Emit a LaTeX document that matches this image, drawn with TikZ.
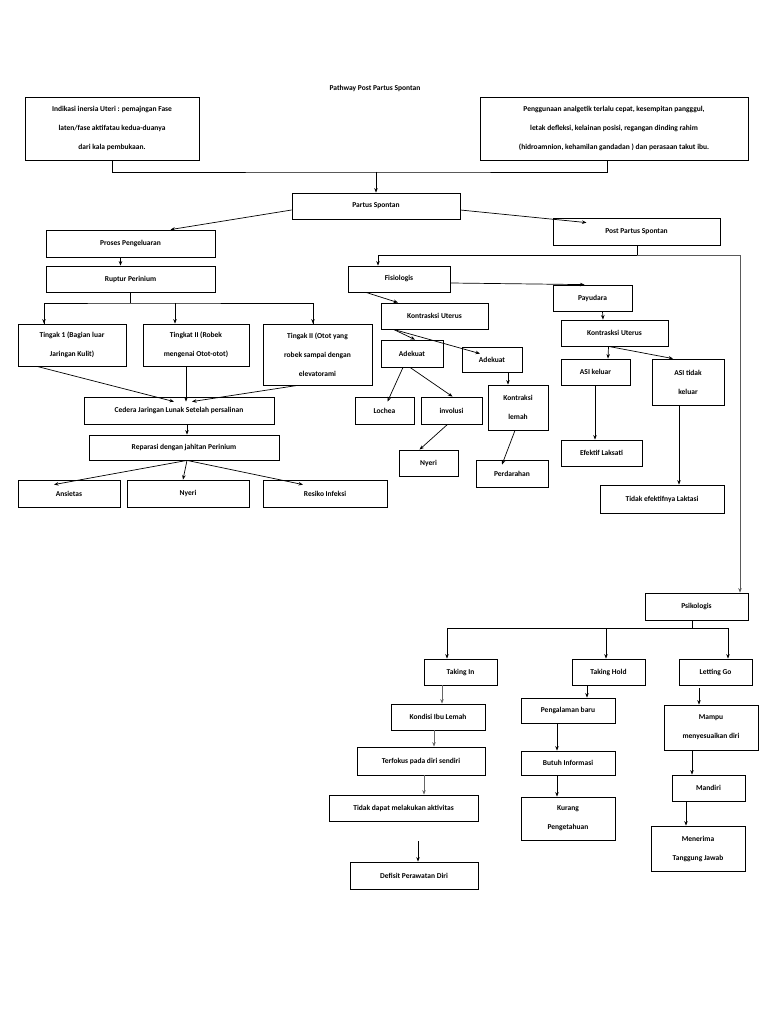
\documentclass[tikz,border=0pt]{standalone}
\usepackage{fontspec}
\setmainfont{Carlito}
\usetikzlibrary{arrows.meta}
\begin{document}
\begin{tikzpicture}[x=1pt,y=-1pt,
  box/.style={draw,line width=0.8pt,inner sep=1pt,align=center,font=\fontsize{7.5}{19}\selectfont\bfseries},
  ar/.style={line width=0.7pt,-{Stealth[length=4.5pt,width=3.5pt]}},
  ln/.style={line width=0.7pt}]
\useasboundingbox[fill=white] (0,0) rectangle (768,1024);
\newcommand\bx[6]{%
 \pgfmathsetmacro\bw{#4-#2}\pgfmathsetmacro\bh{#5-#3}%
 \node[box,minimum width=\bw pt,minimum height=\bh pt] (#1) at ({(#2+#4)/2},{(#3+#5)/2}) {#6};}
\node[font=\fontsize{7.5}{9}\selectfont\bfseries] (title) at (375,88) {Pathway Post Partus Spontan};
\bx{ind}{25}{97}{199}{160}{Indikasi inersia Uteri : pemajngan Fase\\laten/fase aktifatau kedua-duanya\\dari kala pembukaan.}
\bx{pen}{480}{97}{748}{160}{Penggunaan analgetik terlalu cepat, kesempitan pangggul,\\letak defleksi, kelainan posisi, regangan dinding rahim\\(hidroamnion, kehamilan gandadan ) dan perasaan takut ibu.}
\bx{partus}{292}{193}{460}{219}{Partus Spontan}
\bx{proses}{46}{230}{215}{257}{Proses Pengeluaran}
\bx{post}{553}{218}{720}{245}{Post Partus Spontan}
\bx{ruptur}{46}{266}{215}{292}{Ruptur Perinium}
\bx{fis}{348}{266}{450}{292}{Fisiologis}
\bx{pay}{553}{285}{632}{311}{Payudara}
\bx{kuL}{381}{303}{488}{329}{Kontrasksi Uterus}
\bx{kuR}{561}{320}{668}{346}{Kontrasksi Uterus}
\bx{t1}{18}{324}{126}{366}{Tingak 1 (Bagian luar\\Jaringan Kulit)}
\bx{t2}{143}{324}{249}{366}{Tingkat II (Robek\\mengenai Otot-otot)}
\bx{t3}{263}{324}{372}{385}{Tingak II (Otot yang\\robek sampai dengan\\elevatorami}
\bx{adk1}{381}{340}{443}{367}{Adekuat}
\bx{adk2}{462}{347}{522}{372}{Adekuat}
\bx{asik}{561}{359}{630}{385}{ASI keluar}
\bx{asit}{652}{359}{724}{405}{ASI tidak\\keluar}
\bx{lochea}{355}{397}{414}{424}{Lochea}
\bx{inv}{421}{397}{482}{424}{involusi}
\bx{kl}{488}{385}{548}{430}{Kontraksi\\lemah}
\bx{ced}{84}{397}{274}{424}{Cedera Jaringan Lunak Setelah persalinan}
\bx{rep}{89}{435}{279}{460}{Reparasi dengan jahitan Perinium}
\bx{nyeri2}{399}{450}{458}{476}{Nyeri}
\bx{perd}{476}{460}{548}{487}{Perdarahan}
\bx{efek}{561}{440}{642}{466}{Efektif Laksati}
\bx{tidak}{600}{485}{724}{513}{Tidak efektifnya Laktasi}
\bx{ans}{18}{480}{120}{507}{Ansietas}
\bx{nyeri}{127}{480}{249}{507}{Nyeri}
\bx{resiko}{263}{480}{387}{507}{Resiko Infeksi}
\bx{psi}{645}{593}{748}{620}{Psikologis}
\bx{tin}{424}{659}{497}{685}{Taking In}
\bx{thold}{572}{659}{645}{685}{Taking Hold}
\bx{lgo}{679}{659}{752}{685}{Letting Go}
\bx{kond}{391}{704}{485}{730}{Kondisi Ibu Lemah}
\bx{peng}{521}{698}{615}{723}{Pengalaman baru}
\bx{mampu}{664}{705}{758}{750}{Mampu\\menyesuaikan diri}
\bx{terf}{357}{747}{485}{775}{Terfokus pada diri sendiri}
\bx{butuh}{521}{751}{615}{775}{Butuh Informasi}
\bx{mandiri}{672}{775}{745}{801}{Mandiri}
\bx{tidakd}{329}{795}{478}{821}{Tidak dapat melakukan aktivitas}
\bx{kurang}{521}{797}{615}{840}{Kurang\\Pengetahuan}
\bx{menerima}{651}{826}{745}{871}{Menerima\\Tanggung Jawab}
\bx{defisit}{350}{862}{478}{889}{Defisit Perawatan Diri}
% top
\coordinate (j1) at (376,172);
\draw[ln] (ind.south) |- (j1) -| ([xshift=-7pt]pen.south);
\draw[ar] (j1) -- (partus.north -| j1);
\draw[ar] ([yshift=-4pt]partus.west) -- ([xshift=40pt]proses.north);
\draw[ar] ([yshift=-4pt]partus.east) -- ([xshift=-50pt,yshift=-5pt]post.north);
% left branch
\draw[ar] ([xshift=-10pt]proses.south) -- ([xshift=-10pt]ruptur.north);
\coordinate (j2) at (130,303);
\draw[ln] (ruptur.south -| j2) -- (j2);
\draw[ln] (t1.north -| 44,0) |- (j2) -| (t3.north -| 313,0);
\draw[ar] (44,303) -- (t1.north -| 44,0);
\draw[ar] (175,303) -- (t2.north -| 175,0);
\draw[ar] (313,303) -- (t3.north -| 313,0);
\draw[ar] ([xshift=-35pt]t1.south) -- ([xshift=-5pt,yshift=-5pt]ced.north);
\draw[ar] ([xshift=-10pt]t2.south) -- ([xshift=7pt,yshift=-5pt]ced.north);
\draw[ar] ([xshift=-20pt]t3.south) -- ([xshift=13pt,yshift=-5pt]ced.north);
\draw[ar] ([xshift=8pt]ced.south) -- ([xshift=3pt]rep.north);
\draw[ar] ([xshift=3pt]rep.south) -- ([xshift=-15pt,yshift=-5pt]ans.north);
\draw[ar] ([xshift=3pt]rep.south) -- ([xshift=-5pt]nyeri.north);
\draw[ar] ([xshift=3pt]rep.south) -- ([xshift=-22pt,yshift=-5pt]resiko.north);
% fisiologis
\coordinate (j3) at (637,255);
\draw[ln] ([xshift=0.5pt]post.south) -- (j3);
\draw[ar] (j3) -| ([xshift=-21pt]fis.north);
\draw[ar,draw=black!65] (j3) -| (psi.north -| 740,0);
\draw[ar] ([yshift=-4pt]fis.east) -- ([xshift=-8pt]pay.north);
\draw[ar] ([xshift=-33pt]fis.south) -- ([xshift=-36.5pt]kuL.north);
\draw[ar] ([xshift=-41pt]kuL.south) -- ([xshift=3pt]adk1.north);
\draw[ar] ([xshift=-41pt]kuL.south) -- ([xshift=-12pt,yshift=-7pt]adk2.north);
\draw[ar] ([xshift=-9pt]adk1.south) -- ([xshift=3pt,yshift=-5pt]lochea.north);
\draw[ar] ([xshift=-2pt]adk1.south) -- ([xshift=1pt]inv.north);
\draw[ar] ([xshift=-4pt]inv.south) -- ([xshift=-9pt]nyeri2.north);
\draw[ar] ([xshift=16pt]adk2.south) -- ([xshift=-10pt]kl.north);
\draw[ar] ([xshift=-3pt]kl.south) -- ([xshift=-10pt,yshift=-5pt]perd.north);
% payudara
\draw[ar] ([xshift=10pt]pay.south) -- (kuR.north -| 603,0);
\draw[ar] ([xshift=-6pt]kuR.south) -- (asik.north -| 608,0);
\draw[ar] ([xshift=-6pt]kuR.south) -- ([xshift=-15pt]asit.north);
\draw[ar] (asik.south -| 595,0) -- (efek.north -| 595,0);
\draw[ar] (asit.south -| 679,0) -- (tidak.north -| 679,0);
% psikologis
\coordinate (j4) at (692,628);
\draw[ln] (psi.south -| j4) -- (j4);
\draw[ln] (447,628) -- (728,628);
\draw[ar] (447,628) -- (tin.north -| 447,0);
\draw[ar] (606,628) -- (thold.north -| 606,0);
\draw[ar] (728,628) -- (lgo.north -| 728,0);
\draw[ar,draw=black!60] (tin.south -| 442,0) -- (kond.north -| 442,0);
\draw[ar,draw=black!60] (kond.south -| 434,0) -- (terf.north -| 434,0);
\draw[ar,draw=black!60] (terf.south -| 424,0) -- (tidakd.north -| 424,0);
\coordinate (j5) at (418,841);
\draw[ar] (j5) -- (defisit.north -| j5);
\draw[ar] (thold.south -| 587,0) -- (peng.north -| 587,0);
\draw[ar] (peng.south -| 557,0) -- (butuh.north -| 557,0);
\draw[ar] (butuh.south -| 557,0) -- (kurang.north -| 557,0);
\draw[ar] ([yshift=-3pt]lgo.south -| 699,0) -- (mampu.north -| 699,0);
\draw[ar] (mampu.south -| 692,0) -- (mandiri.north -| 692,0);
\draw[ar] (mandiri.south -| 686,0) -- (menerima.north -| 686,0);
\end{tikzpicture}
\end{document}
